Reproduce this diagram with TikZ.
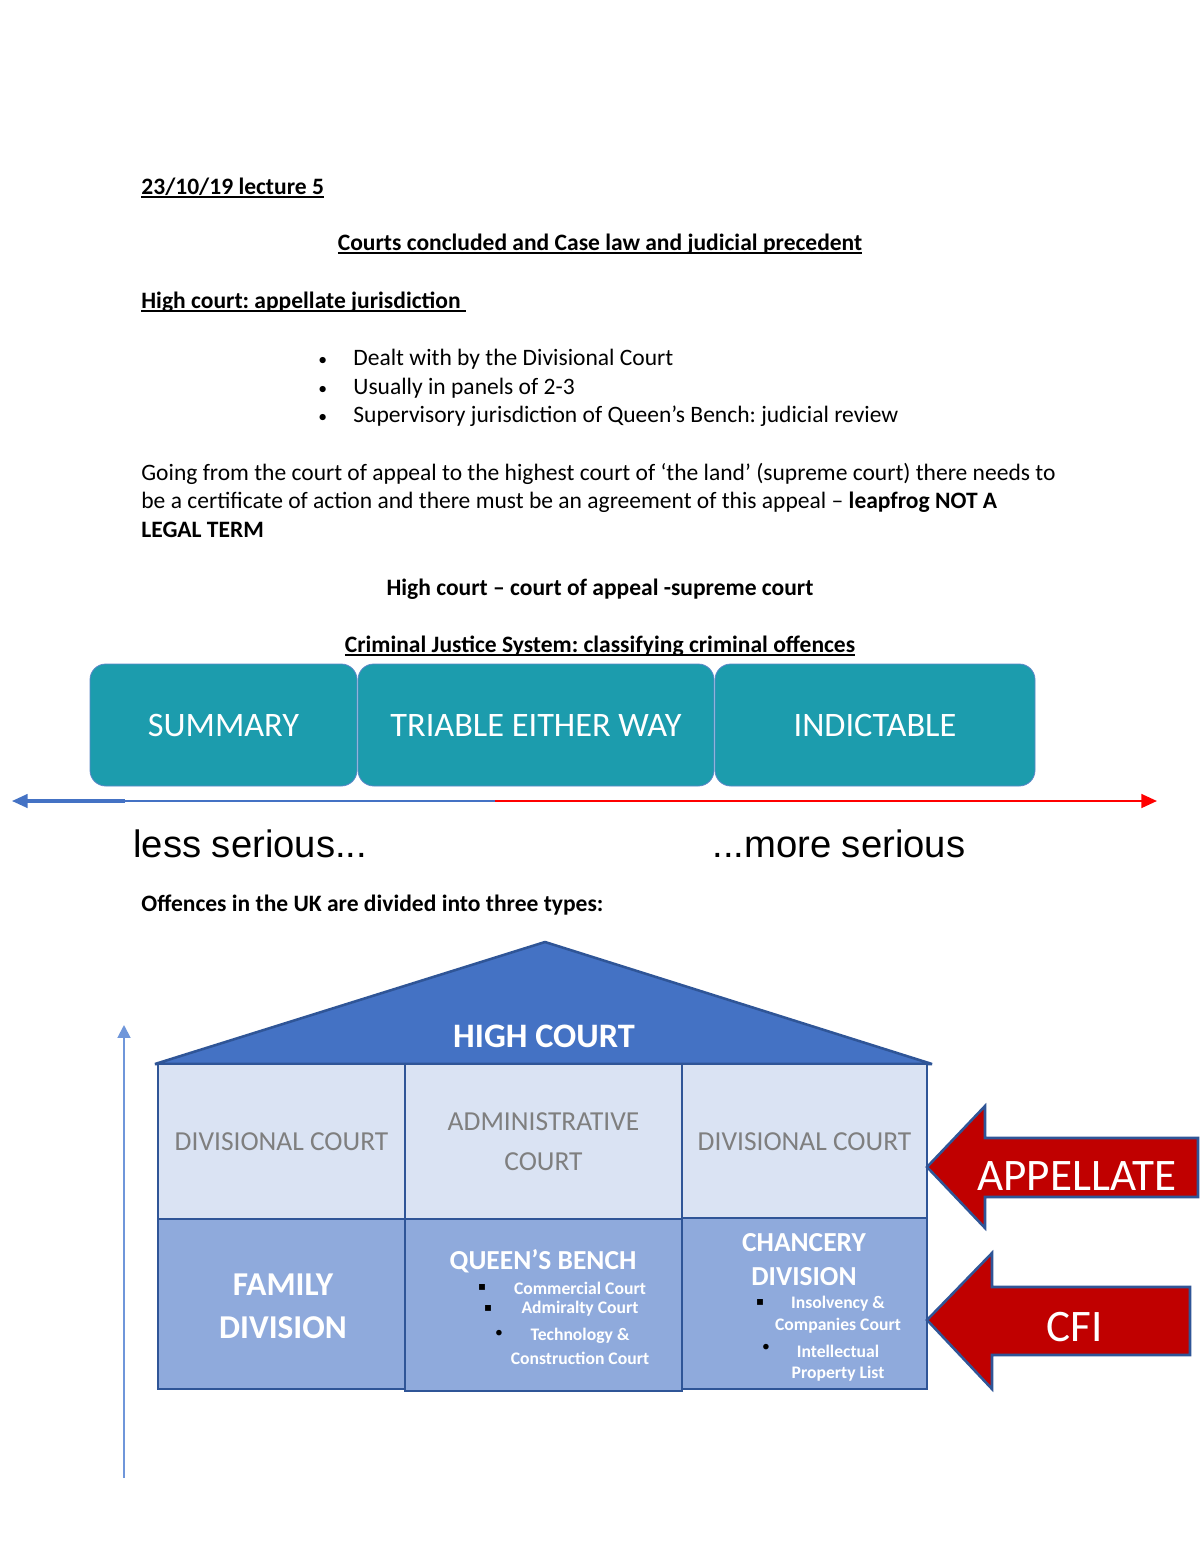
\documentclass[tikz,border=0pt]{standalone}
\usepackage{fontspec}
\setmainfont{Carlito}
\newfontfamily\arialf{Liberation Sans}
\newfontfamily\djf{DejaVu Sans}
\usetikzlibrary{arrows.meta}
\frenchspacing
\newsavebox\myulbox
\newcommand\myul[1]{\sbox\myulbox{#1}\rlap{\usebox\myulbox}\rule[-1.5pt]{\wd\myulbox}{0.65pt}}
\definecolor{tealbox}{HTML}{1C9CAD}
\definecolor{tealedge}{HTML}{5B86C8}
\definecolor{roofblue}{HTML}{4472C4}
\definecolor{edgeblue}{HTML}{2F5597}
\definecolor{lightcell}{HTML}{DAE3F3}
\definecolor{midcell}{HTML}{8FAADC}
\definecolor{graytext}{HTML}{7F7F7F}
\definecolor{darkred}{HTML}{C00000}
\definecolor{axisblue}{HTML}{4472C4}
\definecolor{axisred}{HTML}{FF0000}
\definecolor{vblue}{HTML}{6F96DA}
\tikzset{
  body/.style={font=\fontsize{12}{14.6}\selectfont, inner sep=0pt, anchor=mid west},
  bodyc/.style={font=\fontsize{12}{14.6}\selectfont, inner sep=0pt, anchor=mid},
  bul/.style={font=\fontsize{9}{11}\selectfont, inner sep=0pt, anchor=mid west},
  offbox/.style={draw=tealedge, line width=0.4pt, fill=tealbox, rounded corners=8pt, text=white,
    font=\fontsize{17.5}{21}\selectfont, inner sep=0pt},
  upcell/.style={draw=edgeblue, line width=1.3pt, fill=lightcell, inner sep=0pt, text=graytext,
    font=\fontsize{14}{17.5}\selectfont, align=center},
  lowcell/.style={draw=edgeblue, line width=1.3pt, fill=midcell, inner sep=0pt},
  celltitle/.style={text=white, font=\bfseries\fontsize{14}{17.5}\selectfont, inner sep=0pt, align=center},
  subitem/.style={text=white, font=\bfseries\fontsize{9}{11}\selectfont, inner sep=0pt},
  sqbullet/.style={font=\djf\fontsize{6}{7}\selectfont, inner sep=0pt},
  rdbullet/.style={font=\fontsize{8}{10}\selectfont, inner sep=0pt},
  blockarrow/.style={draw=edgeblue, line width=1.3pt, fill=darkred, line join=miter},
  arrowtext/.style={text=white, font=\fontsize{23}{27}\selectfont, inner sep=0pt},
}
\begin{document}
\begin{tikzpicture}[x=0.51pt,y=-0.51pt]
\useasboundingbox[fill=white] (0,0) rectangle (1200,1553);

% ---- header text ----
\node[body, font=\bfseries\fontsize{12}{14.6}\selectfont] (date) at (141,190) {\myul{23/10/19 lecture 5}};
\node[bodyc, font=\bfseries\fontsize{12}{14.6}\selectfont] (title) at (600,246) {\myul{Courts concluded and Case law and judicial precedent}};
\node[body, font=\bfseries\fontsize{12}{14.6}\selectfont] (hc) at (141,304) {\myul{High court: appellate jurisdiction\ }};

\node[bul] (b1) at (318,361) {•};
\node[body] (t1) at (353,361) {Dealt with by the Divisional Court};
\node[bul] (b2) at (318,390) {•};
\node[body] (t2) at (353,390) {Usually in panels of 2-3};
\node[bul] (b3) at (318,418) {•};
\node[body] (t3) at (353,418) {Supervisory jurisdiction of Queen’s Bench: judicial review};

\node[body] (p1) at (141,476) {Going from the court of appeal to the highest court of ‘the land’ (supreme court) there needs to};
\node[body] (p2) at (141,504) {be a certificate of action and there must be an agreement of this appeal – \textbf{leapfrog NOT A}};
\node[body] (p3) at (141,533) {\textbf{LEGAL TERM}};

\node[bodyc, font=\bfseries\fontsize{12}{14.6}\selectfont] (chain) at (600,591) {High court – court of appeal -supreme court};
\node[bodyc, font=\bfseries\fontsize{12}{14.6}\selectfont] (cjs) at (600,648) {\myul{Criminal Justice System: classifying criminal offences}};

% ---- offence boxes ----
\node[offbox, minimum width={267*0.51pt}, minimum height={122*0.51pt}] (summary) at (223.5,725) {SUMMARY};
\node[offbox, minimum width={356*0.51pt}, minimum height={122*0.51pt}] (triable) at (536,725) {TRIABLE EITHER WAY};
\node[offbox, minimum width={320*0.51pt}, minimum height={122*0.51pt}] (indict) at (875,725) {INDICTABLE};

% ---- seriousness axis ----
\coordinate (axl) at (12,801);
\coordinate (axm) at (495,801);
\coordinate (axr) at (1157,801);
\coordinate (axt) at (125,801);
\draw[axisblue, line width=1.2pt, -{Triangle[length=8pt,width=7pt]}] (axm) -- (axl);
\draw[axisblue, line width=2pt] (axt) -- (20,801);
\draw[axisred, line width=1.3pt, -{Triangle[length=8pt,width=7pt]}] (axm) -- (axr);

\node[inner sep=0pt, anchor=mid west, font=\arialf\fontsize{19.5}{23}\selectfont] (less) at (133,853) {less serious...};
\node[inner sep=0pt, anchor=mid west, font=\arialf\fontsize{19.5}{23}\selectfont] (more) at (712,853) {...more serious};

\node[body, font=\bfseries\fontsize{12}{14.6}\selectfont] (types) at (141,907) {Offences in the UK are divided into three types:};

% ---- vertical arrow ----
\coordinate (vbot) at (124,1478);
\coordinate (vtop) at (124,1025);
\draw[vblue, line width=1pt, -{Triangle[length=6.5pt,width=6.5pt]}] (vbot) -- (vtop);

% ---- house ----
\draw[draw=edgeblue, line width=1.3pt, fill=roofblue, line join=bevel] (155,1064) -- (545,942) -- (932,1064) -- cycle;
\node[text=white, font=\bfseries\fontsize{17.5}{21}\selectfont, inner sep=0pt] (high) at (544,1036) {HIGH COURT};

\node[upcell, minimum width={247*0.51pt}, minimum height={155*0.51pt}] (dc1) at (281.5,1141.5) {DIVISIONAL COURT};
\node[upcell, minimum width={277*0.51pt}, minimum height={155*0.51pt}] (adm) at (543.5,1141.5) {ADMINISTRATIVE\\[3pt]COURT};
\node[upcell, minimum width={245*0.51pt}, minimum height={155*0.51pt}] (dc2) at (804.5,1141.5) {DIVISIONAL COURT};

\node[lowcell, minimum width={247*0.51pt}, minimum height={170*0.51pt}] (fam) at (281.5,1304) {};
\node[lowcell, minimum width={277*0.51pt}, minimum height={172*0.51pt}] (qb) at (543.5,1305) {};
\node[lowcell, minimum width={245*0.51pt}, minimum height={171*0.51pt}] (ch) at (804.5,1303.5) {};

\node[celltitle, font=\bfseries\fontsize{17}{22}\selectfont] (famt) at (283,1306) {FAMILY\\DIVISION};

\node[celltitle] (qbt) at (543,1261) {QUEEN’S BENCH};
\node[sqbullet] (qbb1) at (482,1287) {▪};
\node[subitem] (qb1) at (580,1288) {Commercial Court};
\node[sqbullet] (qbb2) at (488,1308) {▪};
\node[subitem] (qb2) at (580,1309) {Admiralty Court};
\node[rdbullet] (qbb3) at (499,1334) {•};
\node[subitem] (qb3) at (580,1336) {Technology \&};
\node[subitem] (qb4) at (580,1358) {Construction Court};

\node[celltitle] (cht1) at (804,1243) {CHANCERY};
\node[celltitle] (cht2) at (804,1277) {DIVISION};
\node[sqbullet] (chb1) at (760,1302) {▪};
\node[subitem] (ch1) at (838,1304) {Insolvency \&};
\node[subitem] (ch2) at (838,1326) {Companies Court};
\node[rdbullet] (chb2) at (766,1348) {•};
\node[subitem] (ch3) at (838,1351) {Intellectual};
\node[subitem] (ch4) at (838,1374) {Property List};

% ---- block arrows ----
\draw[blockarrow] (927,1167) -- (985,1106) -- (985,1138) -- (1198,1138) -- (1198,1197) -- (985,1197) -- (985,1228) -- cycle;
\node[arrowtext] (appel) at (1077,1176) {APPELLATE};
\draw[blockarrow] (927,1320) -- (992,1253) -- (992,1287) -- (1190,1287) -- (1190,1355) -- (992,1355) -- (992,1389) -- cycle;
\node[arrowtext] (cfi) at (1075,1327) {CFI};
\end{tikzpicture}
\end{document}
